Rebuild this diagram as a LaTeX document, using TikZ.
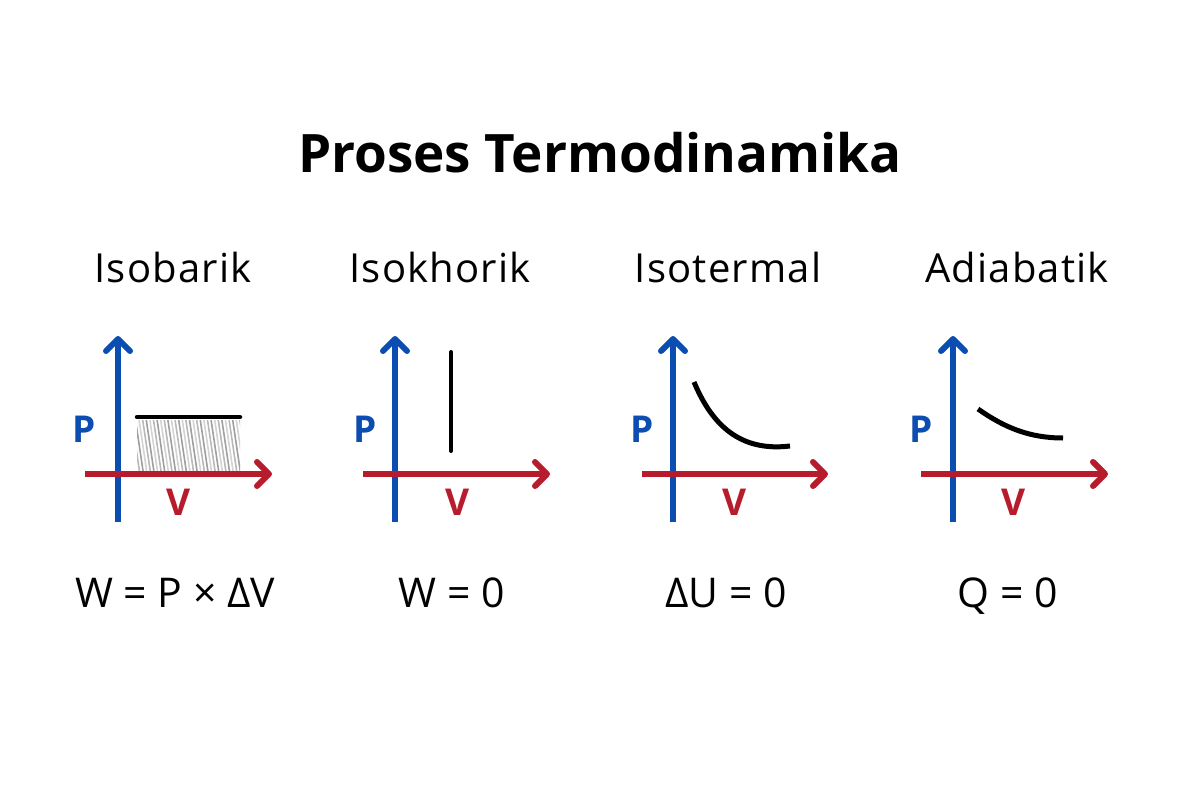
\documentclass[tikz,border=0pt]{standalone}
\usepackage{fontspec}
\setmainfont{Open Sans}
\newfontfamily\procfont[LetterSpace=3]{Open Sans}
\usetikzlibrary{arrows.meta}
\definecolor{axblue}{HTML}{0B4DB0}
\definecolor{axred}{HTML}{B71C2C}
\tikzset{
  title/.style={font=\fontsize{53}{60}\selectfont\bfseries, anchor=base},
  proc/.style={font=\procfont\fontsize{40}{44}\selectfont, anchor=base},
  formula/.style={font=\fontsize{41}{44}\selectfont, anchor=base},
  plab/.style={font=\fontsize{37}{40}\selectfont\bfseries, text=axblue, anchor=base},
  vlab/.style={font=\fontsize{37}{40}\selectfont\bfseries, text=axred, anchor=base},
  paxis/.style={draw=axblue, line width=6pt, -{Straight Barb[length=12pt,width=24pt,round]}},
  vaxis/.style={draw=axred, line width=6pt, -{Straight Barb[length=12pt,width=24pt,round]}},
  curve/.style={draw=black, line width=5pt},
  hatch/.style={draw=gray!75, line width=1.6pt},
}
\begin{document}
\begin{tikzpicture}[x=1pt,y=-1pt]
\useasboundingbox[fill=white] (0,0) rectangle (1200,800);
\node[title] (t) at (600,172) {Proses Termodinamika};
% column labels
\node[proc] (l1) at (173,282) {Isobarik};
\node[proc] (l2) at (440,282) {Isokhorik};
\node[proc] (l3) at (728,282) {Isotermal};
\node[proc] (l4) at (1017,282) {Adiabatik};
% formulas
\node[formula] (f1) at (175,607) {W = P × ΔV};
\node[formula] (f2) at (452,607) {W = 0};
\node[formula] (f3) at (726,607) {ΔU = 0};
\node[formula] (f4) at (1008,607) {Q = 0};
% panel 1
\coordinate (p1b) at (118,522); \coordinate (p1t) at (118,336);
\coordinate (v1l) at (85,474); \coordinate (v1r) at (272,474);
\begin{scope}
\clip (137,420) rectangle (240,470);
\foreach \i in {0,...,34} {
  \draw[hatch, draw opacity={0.45+0.55*mod(\i,3)/2}] ({128+\i*3.6},418) -- ({136+\i*3.6},472);
}
\end{scope}
\coordinate (h1a) at (137,417); \coordinate (h1b) at (240,417);
\draw[curve, line width=4.5pt, line cap=round] (h1a) -- (h1b);
\draw[paxis] (p1b) -- (p1t);
\draw[vaxis] (v1l) -- (v1r);
\node[plab] (P1) at (84,442) {P};
\node[vlab] (V1) at (179,515) {V};
% panel 2
\coordinate (p2b) at (395,522); \coordinate (p2t) at (395,336);
\coordinate (v2l) at (363,474); \coordinate (v2r) at (550,474);
\coordinate (c2a) at (451,352); \coordinate (c2b) at (451,451);
\draw[curve, line cap=round, line width=4pt] (c2a) -- (c2b);
\draw[paxis] (p2b) -- (p2t);
\draw[vaxis] (v2l) -- (v2r);
\node[plab] (P2) at (365,442) {P};
\node[vlab] (V2) at (458,515) {V};
% panel 3
\coordinate (p3b) at (673,522); \coordinate (p3t) at (673,336);
\coordinate (v3l) at (642,474); \coordinate (v3r) at (828,474);
\coordinate (c3a) at (694,382); \coordinate (c3b) at (790,446);
\draw[curve] (c3a) .. controls (712,425) and (740,452) .. (c3b);
\draw[paxis] (p3b) -- (p3t);
\draw[vaxis] (v3l) -- (v3r);
\node[plab] (P3) at (642,442) {P};
\node[vlab] (V3) at (735,515) {V};
% panel 4
\coordinate (p4b) at (953,522); \coordinate (p4t) at (953,336);
\coordinate (v4l) at (921,474); \coordinate (v4r) at (1108,474);
\coordinate (c4a) at (978,409); \coordinate (c4b) at (1063,438);
\draw[curve] (c4a) .. controls (1005,428) and (1030,438) .. (c4b);
\draw[paxis] (p4b) -- (p4t);
\draw[vaxis] (v4l) -- (v4r);
\node[plab] (P4) at (921,442) {P};
\node[vlab] (V4) at (1014,515) {V};
\end{tikzpicture}
\end{document}
